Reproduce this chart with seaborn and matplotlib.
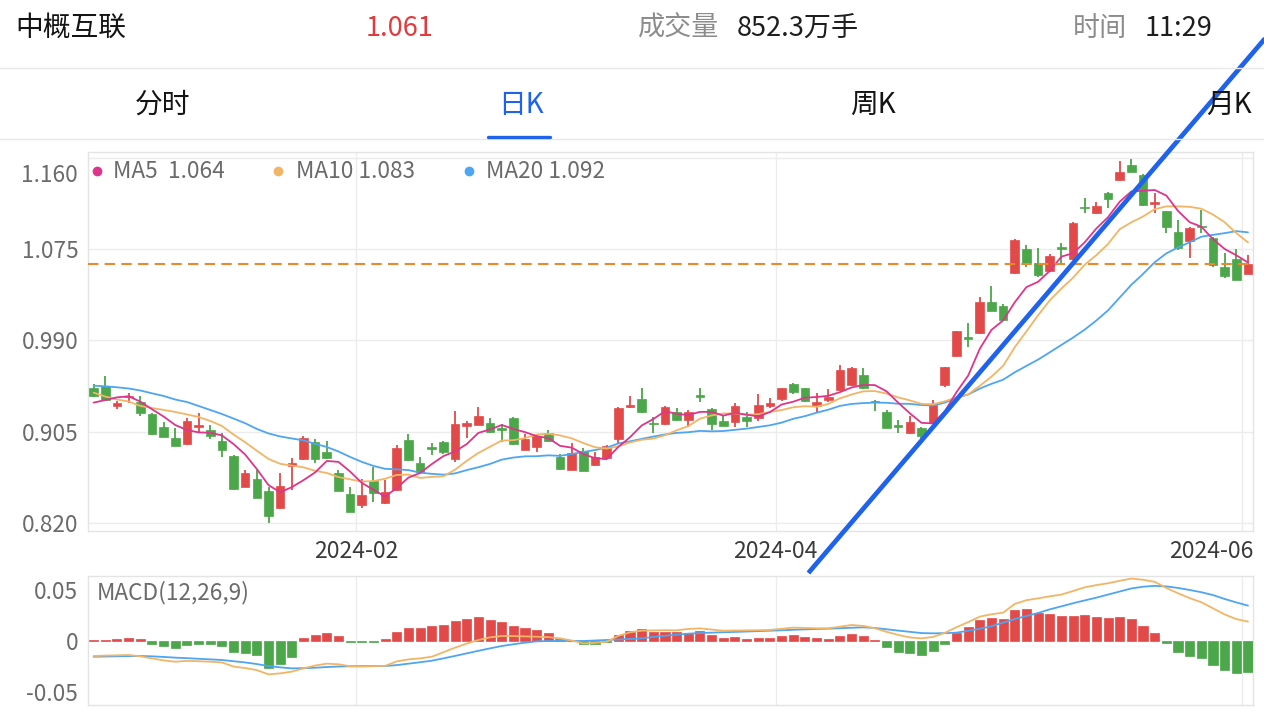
import numpy as np
import pandas as pd
import matplotlib
matplotlib.use('Agg')
import matplotlib.pyplot as plt
from matplotlib.lines import Line2D
import seaborn as sns

# 日K 数据
opens = [0.9455, 0.9479, 0.9290, 0.9371, 0.9330, 0.9213, 0.9091, 0.8989, 0.8936, 0.9091,
         0.9066, 0.8964, 0.8824, 0.8538, 0.8610, 0.8501, 0.8337, 0.8734, 0.8796, 0.8952,
         0.8859, 0.8669, 0.8470, 0.8368, 0.8591, 0.8384, 0.8507, 0.8973, 0.8756, 0.8901,
         0.8952, 0.8796, 0.9104, 0.9113, 0.9129, 0.9082, 0.9181, 0.8880, 0.8911, 0.9036,
         0.8812, 0.8694, 0.8871, 0.8740, 0.8808, 0.8982, 0.9278, 0.9352, 0.9134, 0.9119,
         0.9237, 0.9160, 0.9392, 0.9259, 0.9150, 0.9144, 0.9190, 0.9175, 0.9290, 0.9352,
         0.9492, 0.9455, 0.9293, 0.9346, 0.9439, 0.9486, 0.9579, 0.9337, 0.9237, 0.9113,
         0.9041, 0.9082, 0.9129, 0.9486, 0.9756, 0.9926, 0.9967, 1.0262, 1.0221, 1.0532,
         1.0755, 1.0625, 1.0550, 1.0774, 1.0656, 1.1146, 1.1085, 1.1277, 1.1395, 1.1535,
         1.1442, 1.1172, 1.1106, 1.0914, 1.0830, 1.0969, 1.0852, 1.0588, 1.0656, 1.0520]
highs = [0.9495, 0.9569, 0.9336, 0.9408, 0.9383, 0.9222, 0.9144, 0.9082, 0.9181, 0.9222,
         0.9113, 0.9036, 0.8830, 0.8694, 0.8694, 0.8538, 0.8663, 0.8803, 0.9013, 0.8980,
         0.8964, 0.8694, 0.8533, 0.8610, 0.8719, 0.8601, 0.8927, 0.9029, 0.8812, 0.8942,
         0.8960, 0.9243, 0.9150, 0.9283, 0.9175, 0.9119, 0.9185, 0.9026, 0.9026, 0.9066,
         0.8843, 0.8942, 0.8896, 0.8859, 0.8927, 0.9283, 0.9386, 0.9455, 0.9190, 0.9293,
         0.9268, 0.9253, 0.9455, 0.9274, 0.9200, 0.9315, 0.9237, 0.9399, 0.9362, 0.9460,
         0.9500, 0.9460, 0.9408, 0.9445, 0.9672, 0.9650, 0.9641, 0.9350, 0.9250, 0.9160,
         0.9197, 0.9090, 0.9346, 0.9655, 0.9990, 1.0066, 1.0308, 1.0408, 1.0240, 1.0845,
         1.0790, 1.0759, 1.0706, 1.0811, 1.1007, 1.1225, 1.1193, 1.1286, 1.1575, 1.1588,
         1.1450, 1.1271, 1.1110, 1.1023, 1.0960, 1.1116, 1.0860, 1.0712, 1.0750, 1.0697]
lows = [0.9374, 0.9340, 0.9262, 0.9315, 0.9197, 0.9020, 0.9000, 0.8915, 0.8930, 0.9036,
        0.8982, 0.8818, 0.8510, 0.8532, 0.8430, 0.8197, 0.8330, 0.8507, 0.8790, 0.8756,
        0.8800, 0.8495, 0.8300, 0.8337, 0.8393, 0.8380, 0.8500, 0.8780, 0.8670, 0.8833,
        0.8840, 0.8771, 0.8989, 0.9110, 0.9040, 0.8957, 0.8925, 0.8875, 0.8864, 0.8950,
        0.8694, 0.8690, 0.8680, 0.8735, 0.8800, 0.8942, 0.9275, 0.9225, 0.9036, 0.9110,
        0.9150, 0.9097, 0.9330, 0.9066, 0.9100, 0.9097, 0.9097, 0.9150, 0.9268, 0.9340,
        0.9399, 0.9330, 0.9237, 0.9330, 0.9430, 0.9480, 0.9450, 0.9243, 0.9080, 0.9036,
        0.9030, 0.8942, 0.9120, 0.9464, 0.9743, 0.9842, 0.9960, 1.0170, 1.0080, 1.0520,
        1.0588, 1.0489, 1.0540, 1.0619, 1.0650, 1.1091, 1.1080, 1.1131, 1.1390, 1.1470,
        1.1150, 1.1085, 1.0904, 1.0740, 1.0666, 1.0899, 1.0582, 1.0486, 1.0460, 1.0515]
closes = [0.9383, 0.9346, 0.9315, 0.9383, 0.9227, 0.9029, 0.9004, 0.8920, 0.9153, 0.9113,
          0.9013, 0.8880, 0.8517, 0.8663, 0.8436, 0.8268, 0.8545, 0.8756, 0.8989, 0.8796,
          0.8803, 0.8501, 0.8305, 0.8461, 0.8477, 0.8486, 0.8901, 0.8787, 0.8678, 0.8889,
          0.8859, 0.9119, 0.9129, 0.9200, 0.9050, 0.9066, 0.8933, 0.8982, 0.9010, 0.8964,
          0.8703, 0.8849, 0.8684, 0.8818, 0.8917, 0.9274, 0.9299, 0.9231, 0.9119, 0.9278,
          0.9160, 0.9237, 0.9380, 0.9119, 0.9104, 0.9290, 0.9150, 0.9299, 0.9321, 0.9455,
          0.9423, 0.9337, 0.9330, 0.9377, 0.9625, 0.9641, 0.9455, 0.9324, 0.9088, 0.9097,
          0.9144, 0.9010, 0.9299, 0.9650, 0.9989, 0.9914, 1.0262, 1.0178, 1.0091, 1.0836,
          1.0619, 1.0510, 1.0687, 1.0755, 1.0992, 1.1131, 1.1153, 1.1215, 1.1473, 1.1473,
          1.1162, 1.1187, 1.0955, 1.0759, 1.0945, 1.0955, 1.0603, 1.0501, 1.0464, 1.0610]

# 均线开头几根 (窗口之前的历史看不到, 直接读图)
ma5_head = [0.9321, 0.9345, 0.9370, 0.9380]
ma10_head = [0.9414, 0.9378, 0.9350, 0.9332, 0.9290, 0.9271, 0.9253, 0.9234, 0.9211]
ma20_head = [0.9479, 0.9473, 0.9464, 0.9453, 0.9434, 0.9408, 0.9383, 0.9350, 0.9327, 0.9290,
             0.9253, 0.9215, 0.9173, 0.9129, 0.9076, 0.9034, 0.9006, 0.8987, 0.8969]

# MACD(12,26,9) 读图
macd_hist = [0.001, 0.001, 0.0015, 0.0026, 0.0015, -0.003, -0.005, -0.007, -0.004, -0.003,
             -0.003, -0.0045, -0.011, -0.012, -0.0137, -0.026, -0.0225, -0.016, 0.0026, 0.006,
             0.008, 0.005, -0.0013, -0.0013, -0.001, 0.0016, 0.0088, 0.0124, 0.0124, 0.015,
             0.0157, 0.020, 0.022, 0.0239, 0.021, 0.019, 0.015, 0.013, 0.0108, 0.008,
             0.0023, 0.0005, -0.003, -0.003, -0.0013, 0.006, 0.010, 0.0114, 0.009, 0.009,
             0.009, 0.0075, 0.0098, 0.006, 0.0033, 0.0036, 0.002, 0.0026, 0.0026, 0.005,
             0.0056, 0.0042, 0.003, 0.0016, 0.0052, 0.0072, 0.0052, 0.001, -0.006, -0.0105,
             -0.0114, -0.0134, -0.0098, -0.0026, 0.008, 0.0137, 0.021, 0.023, 0.0216, 0.0307,
             0.031, 0.0275, 0.026, 0.0248, 0.0248, 0.0255, 0.024, 0.023, 0.0235, 0.0219,
             0.0144, 0.0078, -0.002, -0.011, -0.0144, -0.0167, -0.0232, -0.0288, -0.0317, -0.0307]
macd_dif = [-0.0147, -0.0143, -0.0140, -0.0137, -0.0150, -0.0170, -0.0190, -0.0203, -0.0195, -0.0198,
            -0.0203, -0.0210, -0.0250, -0.0265, -0.0285, -0.0327, -0.0317, -0.0300, -0.0268, -0.0240,
            -0.0222, -0.0228, -0.0248, -0.0250, -0.0247, -0.0243, -0.0200, -0.0180, -0.0170, -0.0154,
            -0.0110, -0.0065, -0.0025, 0.0010, 0.0036, 0.0049, 0.0048, 0.0045, 0.0042, 0.0038,
            0.0026, 0.0005, -0.0023, -0.0018, -0.0007, 0.0050, 0.0085, 0.0101, 0.0104, 0.0106,
            0.0105, 0.0118, 0.0124, 0.0112, 0.0101, 0.0103, 0.0104, 0.0106, 0.0108, 0.0120,
            0.0131, 0.0128, 0.0125, 0.0124, 0.0140, 0.0157, 0.0148, 0.0125, 0.0090, 0.0060,
            0.0035, 0.0026, 0.0040, 0.0080, 0.0135, 0.0185, 0.0239, 0.0262, 0.0278, 0.0363,
            0.0400, 0.0418, 0.0438, 0.0455, 0.0490, 0.0526, 0.0548, 0.0566, 0.0590, 0.0612,
            0.0600, 0.0580, 0.0520, 0.0468, 0.0420, 0.0380, 0.0320, 0.0260, 0.0215, 0.0190]
macd_dea = [-0.0154, -0.0152, -0.0150, -0.0148, -0.0147, -0.0150, -0.0156, -0.0163, -0.0168, -0.0174,
            -0.0180, -0.0186, -0.0198, -0.0210, -0.0226, -0.0245, -0.0258, -0.0268, -0.0266, -0.0262,
            -0.0255, -0.0250, -0.0247, -0.0246, -0.0245, -0.0245, -0.0236, -0.0222, -0.0208, -0.0193,
            -0.0170, -0.0146, -0.0121, -0.0096, -0.0072, -0.0049, -0.0032, -0.0016, -0.0003, 0.0000,
            0.0002, 0.0001, 0.0000, 0.0005, 0.0010, 0.0015, 0.0020, 0.0026, 0.0040, 0.0052,
            0.0062, 0.0072, 0.0078, 0.0082, 0.0086, 0.0089, 0.0093, 0.0097, 0.0101, 0.0105,
            0.0110, 0.0114, 0.0118, 0.0121, 0.0125, 0.0130, 0.0134, 0.0128, 0.0115, 0.0102,
            0.0090, 0.0078, 0.0075, 0.0077, 0.0082, 0.0100, 0.0120, 0.0145, 0.0180, 0.0215,
            0.0245, 0.0275, 0.0310, 0.0340, 0.0370, 0.0398, 0.0425, 0.0455, 0.0485, 0.0515,
            0.0532, 0.0540, 0.0535, 0.0520, 0.0500, 0.0478, 0.0450, 0.0412, 0.0378, 0.0347]

month_pos = [22.5, 58.5, 98.5]
month_labels = ['2024-02', '2024-04', '2024-06']
price_ticks = [0.820, 0.905, 0.990, 1.075, 1.160]
price_labels = ['0.820', '0.905', '0.990', '1.075', '1.160']
macd_ticks = [0.05, 0.0, -0.05]
macd_labels = ['0.05', '0', '-0.05']
last_price = 1.061
# 手画的趋势线 (两个端点, 价格坐标)
trend_x = [61.3, 100.9]
trend_y = [0.7734, 1.2769]

RED = '#E24A4A'
GREEN = '#4CA64A'
C_MA5 = '#DE358C'
C_MA10 = '#F2B566'
C_MA20 = '#4EA5F2'
BLUE = '#1F63EC'
GRID = '#ECECEC'
EDGE = '#E4E4E4'
LABEL = '#6B6B6B'
TICK_FS = 16.3

sns.set_theme(style='white')
plt.rcParams['font.family'] = ['Noto Sans CJK SC', 'DejaVu Sans']

df = pd.DataFrame({'open': opens, 'high': highs, 'low': lows, 'close': closes})
df['idx'] = np.arange(len(df))


# 均线: 窗口够长时用收盘价算, 前面几根用读图的值
def moving_average(s, n, head):
    ma = s.rolling(n).mean()
    ma.iloc[:n - 1] = head
    return ma


df['ma5'] = moving_average(df['close'], 5, ma5_head)
df['ma10'] = moving_average(df['close'], 10, ma10_head)
df['ma20'] = moving_average(df['close'], 20, ma20_head)

W, H = 1264, 716


def fx(px):
    return px / W


def fy(py):
    return 1 - py / H


fig = plt.figure(figsize=(W / 100, H / 100), dpi=100)
fig.patch.set_facecolor('white')

# 顶部信息栏
fig.text(fx(15), fy(28), '中概互联', fontsize=20, color='#141414', ha='left', va='center')
fig.text(fx(400), fy(28), '1.061', fontsize=19.5, color='#E4393C', ha='center', va='center')
fig.text(fx(638), fy(28), '成交量', fontsize=19.5, color='#8C8C8C', ha='left', va='center')
fig.text(fx(737), fy(28), '852.3万手', fontsize=19.5, color='#1E1E1E', ha='left', va='center')
fig.text(fx(1073), fy(28), '时间', fontsize=19.5, color='#8C8C8C', ha='left', va='center')
fig.text(fx(1145), fy(28), '11:29', fontsize=19.5, color='#1E1E1E', ha='left', va='center')
for sep in (68, 139):
    fig.add_artist(Line2D([0, 1], [fy(sep), fy(sep)], color='#E8E8E8', lw=1))

tabs = ['分时', '日K', '周K', '月K']
tab_x = [163, 521, 873, 1229]
for name, x in zip(tabs, tab_x):
    fig.text(fx(x), fy(105), name, fontsize=20, ha='center', va='center',
             color=BLUE if name == '日K' else '#141414')
fig.add_artist(Line2D([fx(488), fx(550)], [fy(137), fy(137)], color=BLUE, lw=2.4))

# K线主图
ax = fig.add_axes([fx(88), fy(531), (1253 - 88) / W, (531 - 152) / H])
ax.set_facecolor('white')
ax.set_xlim(-0.48, 99.43)
ax.set_ylim(0.8125, 1.1656)

up = df['close'] >= df['open']
colors = np.where(up, RED, GREEN)
body_h = np.maximum((df['close'] - df['open']).abs(), 0.0016)
body_mid = (df['close'] + df['open']) / 2
ax.vlines(df['idx'], df['low'], df['high'], colors=colors, lw=1.3, zorder=2)
ax.bar(df['idx'], body_h, bottom=body_mid - body_h / 2, width=0.74, color=colors,
       edgecolor=colors, linewidth=0.5, zorder=3)

sns.lineplot(x=df['idx'], y=df['ma20'], ax=ax, color=C_MA20, lw=1.3, zorder=4)
sns.lineplot(x=df['idx'], y=df['ma10'], ax=ax, color=C_MA10, lw=1.3, zorder=4)
sns.lineplot(x=df['idx'], y=df['ma5'], ax=ax, color=C_MA5, lw=1.3, zorder=4)

ax.axhline(last_price, color='#E88B2E', lw=1.5, dashes=(5, 3), zorder=5)

# 最上面的 1.160 标签在网格线下方, 单独画
ax.set_yticks(price_ticks)
ax.set_yticklabels(price_labels[:-1] + [''])
ax.text(-0.0086, 1.144, price_labels[-1], transform=ax.get_yaxis_transform(),
        ha='right', va='center', fontsize=TICK_FS, color=LABEL)
ax.set_xticks(month_pos)
ax.tick_params(axis='x', labelbottom=False, length=0)
ax.tick_params(axis='y', length=0, pad=7, labelsize=TICK_FS, labelcolor=LABEL)
ax.grid(True, color=GRID, lw=1)
ax.set_xlabel('')
ax.set_ylabel('')
for sp in ax.spines.values():
    sp.set_color(EDGE)
    sp.set_linewidth(1)

for pos, lab in zip(month_pos, month_labels):
    if lab == month_labels[-1]:
        ax.text(1.0, -0.053, lab, transform=ax.transAxes, ha='right', va='center',
                fontsize=16.5, color='#3A3A3A')
    else:
        ax.text(pos, -0.053, lab, transform=ax.get_xaxis_transform(), ha='center',
                va='center', fontsize=16.5, color='#3A3A3A')

# 均线图例
legend_items = [('MA5  1.064', C_MA5, 97, 113), ('MA10 1.083', C_MA10, 278, 296),
                ('MA20 1.092', C_MA20, 469, 486)]
for text, col, dot_x, txt_x in legend_items:
    ax.plot([(dot_x - 88) / 1165], [(531 - 171) / 379], 'o', color=col, ms=6,
            transform=ax.transAxes, clip_on=False, zorder=6)
    ax.text((txt_x - 88) / 1165, (531 - 172) / 379, text, transform=ax.transAxes,
            ha='left', va='center', fontsize=TICK_FS, color=LABEL)

ax.plot(trend_x, trend_y, color=BLUE, lw=3.4, clip_on=False, zorder=10,
        solid_capstyle='butt')

# MACD 副图
ax2 = fig.add_axes([fx(88), fy(705), (1253 - 88) / W, (705 - 576) / H])
ax2.set_facecolor('white')
ax2.set_xlim(-0.48, 99.43)
ax2.set_ylim(-0.0627, 0.0637)
hist_colors = np.where(np.array(macd_hist) >= 0, RED, GREEN)
ax2.bar(df['idx'], macd_hist, width=0.78, color=hist_colors, edgecolor=hist_colors,
        linewidth=0.5, zorder=3)
sns.lineplot(x=df['idx'], y=macd_dea, ax=ax2, color=C_MA20, lw=1.3, zorder=4)
sns.lineplot(x=df['idx'], y=macd_dif, ax=ax2, color=C_MA10, lw=1.3, zorder=4)
ax2.set_yticks(macd_ticks)
ax2.set_yticklabels(macd_labels)
ax2.set_xticks(month_pos)
ax2.tick_params(axis='x', labelbottom=False, length=0)
ax2.tick_params(axis='y', length=0, pad=7, labelsize=TICK_FS, labelcolor=LABEL)
ax2.xaxis.grid(True, color=GRID, lw=1)
ax2.yaxis.grid(False)
ax2.set_xlabel('')
ax2.set_ylabel('')
for sp in ax2.spines.values():
    sp.set_color(EDGE)
    sp.set_linewidth(1)
ax2.text((97 - 88) / 1165, (705 - 593) / 129, 'MACD(12,26,9)', transform=ax2.transAxes,
         ha='left', va='center', fontsize=16.3, color=LABEL)

fig.savefig('out.png', dpi=100, facecolor='white')
